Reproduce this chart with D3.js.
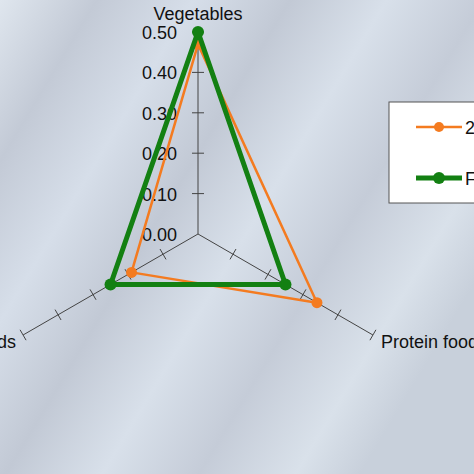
<!DOCTYPE html><html><head><script src="https://cdn.jsdelivr.net/npm/d3@7"></script>
<style>body{margin:0}svg{display:block}</style></head><body><script>
const axes=["Vegetables","Protein foods","Grain foods"];
const angles=[-90,30,150];
const seriesNames=["2015","Food guide"];
const seriesA=[0.47,0.34,0.19];
const seriesB=[0.50,0.25,0.25];
const tickVals=[0,0.1,0.2,0.3,0.4,0.5];
const W=474,H=474,cx=198,cy=234;
const svg=d3.select("body").append("svg").attr("width",W).attr("height",H);
const defs=svg.append("defs");
const g0=defs.append("linearGradient").attr("id","bg").attr("x1","0").attr("y1","0").attr("x2","1").attr("y2","0.6");
[[0,"#dfe6ee"],[0.15,"#c3cad6"],[0.3,"#d6dee9"],[0.45,"#c2c9d5"],[0.6,"#d8e0ea"],[0.75,"#c5ccd8"],[0.9,"#d9e1ea"],[1,"#c8d0db"]].forEach(s=>g0.append("stop").attr("offset",s[0]).attr("stop-color",s[1]));
svg.append("rect").attr("width",W).attr("height",H).attr("fill","url(#bg)");
const r=d3.scaleLinear().domain([0,0.5]).range([0,202]);
const pt=(i,v)=>{const a=angles[i]*Math.PI/180;return [cx+r(v)*Math.cos(a),cy+r(v)*Math.sin(a)];};
const F="Liberation Sans, Arial";
axes.forEach((n,i)=>{
  const e=pt(i,0.5);
  svg.append("line").attr("x1",cx).attr("y1",cy).attr("x2",e[0]).attr("y2",e[1]).attr("stroke","#444").attr("stroke-width",1);
  const a=angles[i]*Math.PI/180,px=-Math.sin(a),py=Math.cos(a);
  tickVals.slice(1).forEach(t=>{const p=pt(i,t);svg.append("line").attr("x1",p[0]-px*6).attr("y1",p[1]-py*6).attr("x2",p[0]+px*6).attr("y2",p[1]+py*6).attr("stroke","#444").attr("stroke-width",1);});
});
tickVals.forEach(t=>svg.append("text").attr("x",177).attr("y",cy-r(t)+7).attr("text-anchor","end").attr("font-family",F).attr("font-size",18).attr("fill","#111").text(t.toFixed(2)));
const lab=[[198,20,"middle"],[381,348,"start"],[16,348,"end"]];
axes.forEach((n,i)=>svg.append("text").attr("x",lab[i][0]).attr("y",lab[i][1]).attr("text-anchor",lab[i][2]).attr("font-family",F).attr("font-size",18).attr("fill","#111").text(n));
const line=d3.line().curve(d3.curveLinearClosed);
[[seriesA,"#f47b20",2.5,5.5],[seriesB,"#138012",5,6]].forEach(([d,c,w,rr])=>{
  const ps=d.map((v,i)=>pt(i,v));
  svg.append("path").attr("d",line(ps)).attr("fill","none").attr("stroke",c).attr("stroke-width",w).attr("stroke-linejoin","round");
  ps.forEach(p=>svg.append("circle").attr("cx",p[0]).attr("cy",p[1]).attr("r",rr).attr("fill",c));
});
svg.append("rect").attr("x",389).attr("y",102).attr("width",100).attr("height",101).attr("fill","#fff").attr("stroke","#555");
[[127,"#f47b20",2.5,5],[178,"#138012",5,6]].forEach(([y,c,w,rr],k)=>{
  svg.append("line").attr("x1",416).attr("x2",462).attr("y1",y).attr("y2",y).attr("stroke",c).attr("stroke-width",w);
  svg.append("circle").attr("cx",439).attr("cy",y).attr("r",rr).attr("fill",c);
  svg.append("text").attr("x",465).attr("y",y+7).attr("font-family",F).attr("font-size",18).attr("fill","#111").text(seriesNames[k]);
});
</script></body></html>
